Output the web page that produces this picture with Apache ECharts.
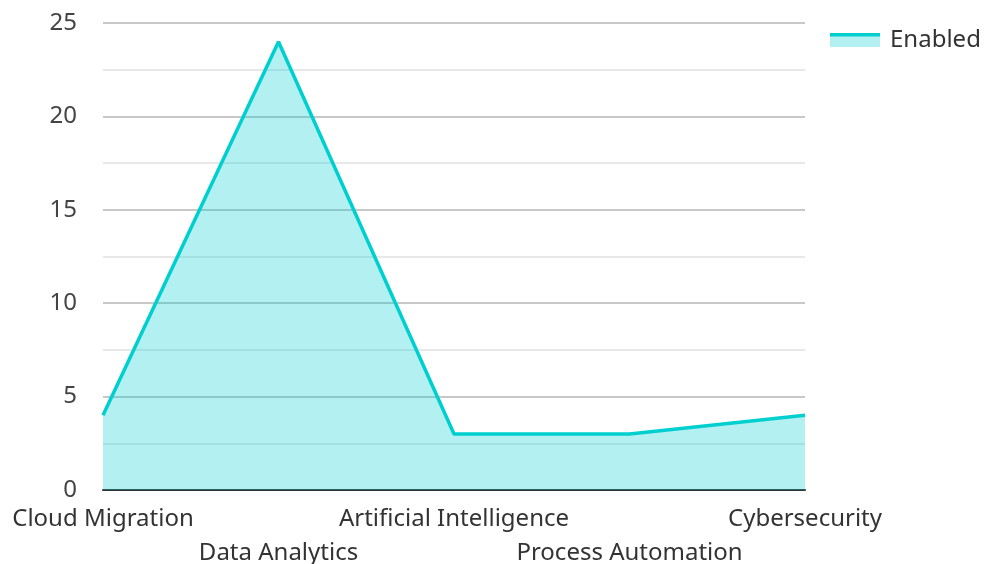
<!DOCTYPE html>
<html>
<head>
<meta charset="utf-8">
<script src="https://cdn.jsdelivr.net/npm/echarts@6/dist/echarts.min.js"></script>
<style>
  html, body { margin: 0; padding: 0; background: #fff; }
  #chart { width: 986px; height: 564px; }
</style>
</head>
<body>
<div id="chart"></div>
<script>
const categories = ['Cloud Migration', 'Data Analytics', 'Artificial Intelligence', 'Process Automation', 'Cybersecurity']
const enabledValues = [4, 24, 3, 3, 4]
const seriesName = 'Enabled'

const lineColor = '#00cfcf'
const areaColor = 'rgba(0, 206, 209, 0.3)'

const chart = echarts.init(document.getElementById('chart'))

const option = {
  animation: false,
  textStyle: { fontFamily: 'Noto Sans' },
  grid: { left: 103, right: 181, top: 23, bottom: 74, outerBoundsMode: 'none', containLabel: false },
  legend: {
    left: 825,
    top: 23,
    icon: 'rect',
    itemWidth: 50,
    itemHeight: 14,
    itemGap: 10,
    data: [{ name: seriesName, itemStyle: { color: areaColor } }],
    textStyle: { fontSize: 24, color: '#333', padding: [0, 0, 10, 5] }
  },
  xAxis: {
    type: 'category',
    boundaryGap: false,
    data: categories,
    axisLine: { lineStyle: { color: '#333', width: 2 } },
    axisTick: { show: false },
    axisLabel: {
      interval: 0,
      fontSize: 24,
      color: '#333',
      lineHeight: 34,
      margin: 12,
      formatter: (value, index) => (index % 2 === 1 ? '\n' + value : value)
    }
  },
  yAxis: {
    type: 'value',
    min: 0,
    max: 25,
    interval: 5,
    axisLine: { show: false },
    axisTick: { show: false },
    axisLabel: { fontSize: 24, color: '#444', margin: 26 },
    splitLine: { lineStyle: { color: '#c8c8c8', width: 2 } },
    minorTick: { show: false, splitNumber: 2 },
    minorSplitLine: { show: true, lineStyle: { color: '#e8e8e8', width: 2 } }
  },
  series: [
    {
      name: seriesName,
      type: 'line',
      data: enabledValues,
      symbol: 'none',
      lineStyle: { color: lineColor, width: 3.5 },
      itemStyle: { color: lineColor },
      areaStyle: { color: areaColor, opacity: 1 }
    }
  ],
  graphic: [
    {
      type: 'rect',
      left: 830,
      top: 33,
      shape: { width: 50, height: 3.5 },
      style: { fill: lineColor },
      silent: true
    }
  ]
}

chart.setOption(option)
</script>
</body>
</html>
